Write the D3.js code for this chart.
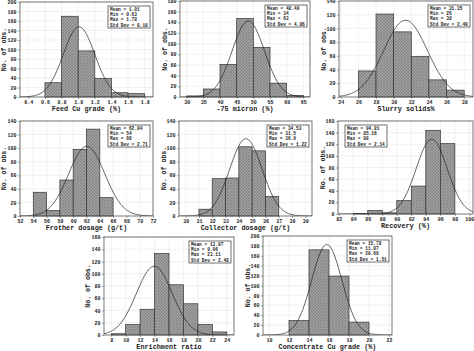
<!DOCTYPE html>
<html>
<head>
<meta charset="utf-8">
<script src="https://cdn.jsdelivr.net/npm/d3@7"></script>
<style>
  body { margin: 0; background: #fff; }
  svg { display: block; }
  text { font-family: 'Liberation Mono', 'DejaVu Sans Mono', monospace; fill: #222; }
</style>
</head>
<body>
<svg id="chart" width="474" height="351"></svg>
<script>
// bin start, bin width and counts
const feedCuBins = [0.6, 0.8, 1.0, 1.2, 1.4, 1.6]
const feedCuCounts = [30, 170, 97, 39, 9, 7]
const feedCuStats = { mean: 1.01, min: 0.63, max: 1.78, sd: 0.19 }

const micronBins = [30, 35, 40, 45, 50, 55, 60]
const micronCounts = [2, 15, 61, 147, 93, 26, 3]
const micronStats = { mean: 48.49, min: 34, max: 63, sd: 4.86 }

const solidsBins = [26, 28, 30, 32, 34, 36]
const solidsCounts = [38, 121, 95, 59, 25, 10]
const solidsStats = { mean: 31.35, min: 26, max: 38, sd: 2.48 }

const frotherBins = [54, 56, 58, 60, 62, 64]
const frotherCounts = [35, 8, 53, 98, 128, 27]
const frotherStats = { mean: 62.04, min: 54, max: 66, sd: 2.71 }

const collectorBins = [31, 32, 33, 34, 35, 36]
const collectorCounts = [10, 55, 56, 102, 96, 29]
const collectorStats = { mean: 34.53, min: 31.5, max: 36.9, sd: 1.22 }

const recoveryBins = [84, 86, 88, 90, 92, 94, 96]
const recoveryCounts = [1, 6, 2, 23, 48, 144, 121]
const recoveryStats = { mean: 94.81, min: 85.16, max: 98, sd: 2.14 }

const enrichBins = [8, 10, 12, 14, 16, 18, 20, 22]
const enrichCounts = [2, 17, 42, 133, 82, 51, 17, 5]
const enrichStats = { mean: 13.97, min: 9.96, max: 23.11, sd: 2.48 }

const concBins = [12, 14, 16, 18]
const concCounts = [29, 172, 119, 26]
const concStats = { mean: 15.78, min: 11.07, max: 20.69, sd: 1.51 }

// tick labels
const feedCuTicks = [0.4, 0.6, 0.8, 1.0, 1.2, 1.4, 1.6, 1.8]
const micronTicks = [30, 35, 40, 45, 50, 55, 60, 65]
const solidsTicks = [24, 26, 28, 30, 32, 34, 36, 38]
const frotherTicks = [52, 54, 56, 58, 60, 62, 64, 66, 68, 70, 72]
const collectorTicks = [30, 31, 32, 33, 34, 35, 36, 37, 38, 39]
const recoveryTicks = [82, 84, 86, 88, 90, 92, 94, 96, 98, 100]
const enrichTicks = [8, 10, 12, 14, 16, 18, 20, 22, 24]
const concTicks = [10, 12, 14, 16, 18, 20, 22]

const panels = [
  { title: 'Feed Cu grade (%)', bins: feedCuBins, width: 0.2, counts: feedCuCounts, stats: feedCuStats, ticks: feedCuTicks, yMax: 200,
    box: [20, 2, 153, 97], xDomain: [0.3, 1.9], yLabelX: 4, legendLeft: false, fmt: d3.format('.1f') },
  { title: '-75 micron (%)', bins: micronBins, width: 5, counts: micronCounts, stats: micronStats, ticks: micronTicks, yMax: 180,
    box: [180, 1, 310, 97], xDomain: [28, 67], yLabelX: 165, legendLeft: false },
  { title: 'Slurry solids%', bins: solidsBins, width: 2, counts: solidsCounts, stats: solidsStats, ticks: solidsTicks, yMax: 140,
    box: [339, 1, 473, 97], xDomain: [23.8, 39], yLabelX: 324, legendLeft: false },
  { title: 'Frother dosage (g/t)', bins: frotherBins, width: 2, counts: frotherCounts, stats: frotherStats, ticks: frotherTicks, yMax: 140,
    box: [20, 121, 153, 216], xDomain: [52, 72], yLabelX: 4, legendLeft: false },
  { title: 'Collector dosage (g/t)', bins: collectorBins, width: 1, counts: collectorCounts, stats: collectorStats, ticks: collectorTicks, yMax: 140,
    box: [179, 121, 312, 216], xDomain: [29.5, 39.5], yLabelX: 164, legendLeft: false },
  { title: 'Recovery (%)', bins: recoveryBins, width: 2, counts: recoveryCounts, stats: recoveryStats, ticks: recoveryTicks, yMax: 160,
    box: [338, 121, 473, 214], xDomain: [81.9, 100.5], yLabelX: 323, legendLeft: true },
  { title: 'Enrichment ratio', bins: enrichBins, width: 2, counts: enrichCounts, stats: enrichStats, ticks: enrichTicks, yMax: 160,
    box: [104, 237, 234, 335], xDomain: [7, 25], yLabelX: 88, legendLeft: false },
  { title: 'Concentrate Cu grade (%)', bins: concBins, width: 2, counts: concCounts, stats: concStats, ticks: concTicks, yMax: 200,
    box: [263, 236, 392, 335], xDomain: [9.4, 22.3], yLabelX: 248, legendLeft: false }
]

const svg = d3.select('#chart')
const defs = svg.append('defs')

// hachures des barres
const pat = defs.append('pattern')
  .attr('id', 'hatch')
  .attr('patternUnits', 'userSpaceOnUse')
  .attr('width', 3)
  .attr('height', 3)
pat.append('rect').attr('width', 3).attr('height', 3).attr('fill', '#a2a2a2')
pat.append('path').attr('d', 'M0,3 L3,0 M0,0 L3,3').attr('stroke', '#7e7e7e').attr('stroke-width', 0.6)

panels.forEach((p, i) => {
  const [x0, y0, x1, y1] = p.box
  const x = d3.scaleLinear().domain(p.xDomain).range([x0, x1])
  const y = d3.scaleLinear().domain([0, p.yMax]).range([y1, y0])
  const g = svg.append('g')

  defs.append('clipPath').attr('id', 'clip' + i)
    .append('rect').attr('x', x0).attr('y', y0).attr('width', x1 - x0).attr('height', y1 - y0)

  // grille
  const yTicks = d3.range(0, p.yMax + 1, 20)
  g.append('g').selectAll('line.gy').data(yTicks.slice(1)).join('line')
    .attr('x1', x0).attr('x2', x1).attr('y1', d => y(d)).attr('y2', d => y(d))
    .attr('stroke', '#e2e2e2').attr('stroke-width', 0.5)
  g.append('g').selectAll('line.gx').data(p.ticks).join('line')
    .attr('x1', d => x(d)).attr('x2', d => x(d)).attr('y1', y0).attr('y2', y1)
    .attr('stroke', '#e2e2e2').attr('stroke-width', 0.5)

  // barres
  g.append('g').selectAll('rect').data(p.bins).join('rect')
    .attr('x', (d, j) => x(d))
    .attr('y', (d, j) => y(p.counts[j]))
    .attr('width', x(p.bins[0] + p.width) - x(p.bins[0]))
    .attr('height', (d, j) => y1 - y(p.counts[j]))
    .attr('fill', 'url(#hatch)')
    .attr('stroke', '#333')
    .attr('stroke-width', 0.7)

  // courbe normale ajustée (N * largeur * densité)
  const n = d3.sum(p.counts)
  const s = p.stats
  const xs = d3.range(0, 121).map(k => p.xDomain[0] + (p.xDomain[1] - p.xDomain[0]) * k / 120)
  const line = d3.line()
    .x(d => x(d))
    .y(d => y(n * p.width * Math.exp(-0.5 * ((d - s.mean) / s.sd) ** 2) / (s.sd * Math.sqrt(2 * Math.PI))))
  g.append('path').datum(xs)
    .attr('d', line)
    .attr('fill', 'none')
    .attr('stroke', '#222')
    .attr('stroke-width', 0.7)
    .attr('clip-path', `url(#clip${i})`)

  // cadre
  g.append('rect').attr('x', x0).attr('y', y0).attr('width', x1 - x0).attr('height', y1 - y0)
    .attr('fill', 'none').attr('stroke', '#555').attr('stroke-width', 0.8)

  // axes
  const fmt = p.fmt || (d => d)
  const xAxis = g.append('g').attr('transform', `translate(0,${y1})`)
    .call(d3.axisBottom(x).tickValues(p.ticks).tickFormat(fmt).tickSize(2).tickPadding(1.5))
  const yAxis = g.append('g').attr('transform', `translate(${x0},0)`)
    .call(d3.axisLeft(y).tickValues(yTicks).tickSize(2).tickPadding(1.5))
  ;[xAxis, yAxis].forEach(a => {
    a.select('.domain').remove()
    a.selectAll('line').attr('stroke', '#444').attr('stroke-width', 0.5)
    a.selectAll('text').attr('font-family', "'Liberation Mono', monospace")
      .attr('font-size', 5).attr('font-weight', 'bold').attr('fill', '#333')
  })

  // titres
  g.append('text')
    .attr('x', (x0 + x1) / 2).attr('y', y1 + 14)
    .attr('text-anchor', 'middle')
    .attr('font-size', 6.8).attr('font-weight', 'bold')
    .text(p.title)
  g.append('text')
    .attr('transform', `translate(${p.yLabelX},${(y0 + y1) / 2}) rotate(-90)`)
    .attr('text-anchor', 'middle')
    .attr('dy', '0.35em')
    .attr('font-size', 6.6).attr('font-weight', 'bold')
    .text('No. of obs.')

  // légende
  const lw = 42
  const lh = 22
  const lx = p.legendLeft ? x0 + 7 : x1 - lw - 3
  const ly = y0 + 4
  const leg = g.append('g')
  leg.append('rect').attr('x', lx).attr('y', ly).attr('width', lw).attr('height', lh)
    .attr('fill', '#fff').attr('stroke', '#333').attr('stroke-width', 0.7)
  const lines = ['Mean = ' + s.mean, 'Min = ' + s.min, 'Max = ' + s.max, 'Std Dev = ' + s.sd]
  leg.selectAll('text').data(lines).join('text')
    .attr('x', lx + 2).attr('y', (d, j) => ly + 5 + j * 5.2)
    .attr('font-size', 4.5).attr('font-weight', 'bold')
    .text(d => d)
})
</script>
</body>
</html>
